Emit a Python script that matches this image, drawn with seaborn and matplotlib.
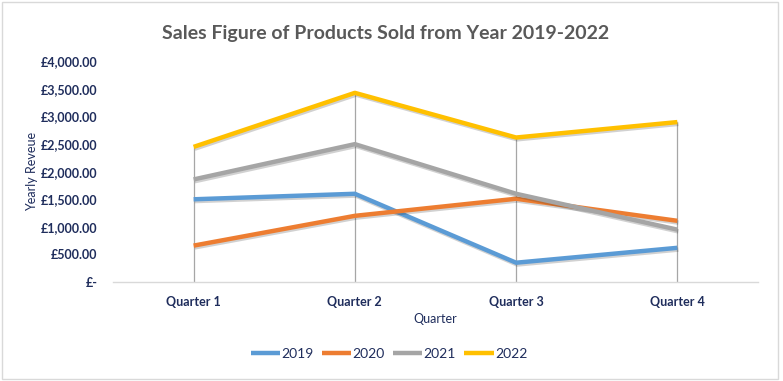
import pandas as pd
import numpy as np
import matplotlib.pyplot as plt
import matplotlib.patheffects as pe
import seaborn as sns

# Data
quarters = ["Quarter 1", "Quarter 2", "Quarter 3", "Quarter 4"]
years = ["2019", "2020", "2021", "2022"]
sales_2019 = [1500, 1600, 350, 620]
sales_2020 = [660, 1200, 1510, 1110]
sales_2021 = [1860, 2500, 1600, 950]
sales_2022 = [2450, 3430, 2620, 2900]
yticks = [0, 500, 1000, 1500, 2000, 2500, 3000, 3500, 4000]
colors = ["#5B9BD5", "#ED7D31", "#A5A5A5", "#FFC000"]

df = pd.DataFrame({"Quarter": quarters, "2019": sales_2019, "2020": sales_2020,
                   "2021": sales_2021, "2022": sales_2022})
df_long = df.melt(id_vars="Quarter", var_name="Year", value_name="Revenue")

sns.set_style("white")
plt.rcParams["font.family"] = ["Lato", "DejaVu Sans"]
navy = "#1F2D5C"

fig = plt.figure(figsize=(7.83, 3.81), dpi=100)
ax = fig.add_axes([0.1443, 0.2598, 0.8237, 0.579])

# drop lines from top series to axis
tops = df[years].max(axis=1).values
ax.vlines(range(len(quarters)), 0, tops, color="#A6A6A6", lw=0.9, zorder=1)

sns.lineplot(data=df_long, x="Quarter", y="Revenue", hue="Year", palette=colors,
             lw=3.2, ax=ax, sort=False, legend=True, zorder=3,
             path_effects=[pe.SimpleLineShadow(offset=(0.8, -1.3), alpha=0.22, shadow_color="#303030"),
                           pe.Normal()])
for line in ax.get_lines():
    line.set_solid_capstyle("butt")

ax.set_xlim(-0.5, 3.5)
ax.set_ylim(0, 4000)
ax.set_yticks(yticks)
ax.set_yticklabels(["£-"] + [f"£{v:,.2f}" for v in yticks[1:]])
for s in ["top", "right", "left"]:
    ax.spines[s].set_visible(False)
ax.spines["bottom"].set_color("#D9D9D9")
ax.spines["bottom"].set_linewidth(1.0)
ax.tick_params(axis="both", length=0, labelsize=9, labelcolor=navy)
ax.tick_params(axis="y", pad=11)
ax.tick_params(axis="x", pad=10)
for lbl in ax.get_xticklabels() + ax.get_yticklabels():
    lbl.set_fontweight("bold")

ax.set_xlabel("Quarter", fontsize=9, color=navy, labelpad=4)
ax.set_ylabel("Yearly Reveue", fontsize=9, color=navy, labelpad=2)

fig.suptitle("Sales Figure of Products Sold from Year 2019-2022", x=0.493, y=0.935,
             fontsize=14, fontweight="bold", color="#595959")

handles, labels = ax.get_legend_handles_labels()
for h in handles:
    h.set_path_effects([])
ax.legend(handles, labels, loc="center", bbox_to_anchor=(0.497, 0.07),
          bbox_transform=fig.transFigure, ncol=4, frameon=False, fontsize=10,
          handlelength=2.1, handletextpad=0.1, columnspacing=0.6, labelcolor=navy)

fig.patches.append(plt.Rectangle((0.002, 0.005), 0.992, 0.99, transform=fig.transFigure,
                                 fill=False, edgecolor="#D9D9D9", lw=1.0))

fig.savefig("out.png", dpi=100)
plt.close()
